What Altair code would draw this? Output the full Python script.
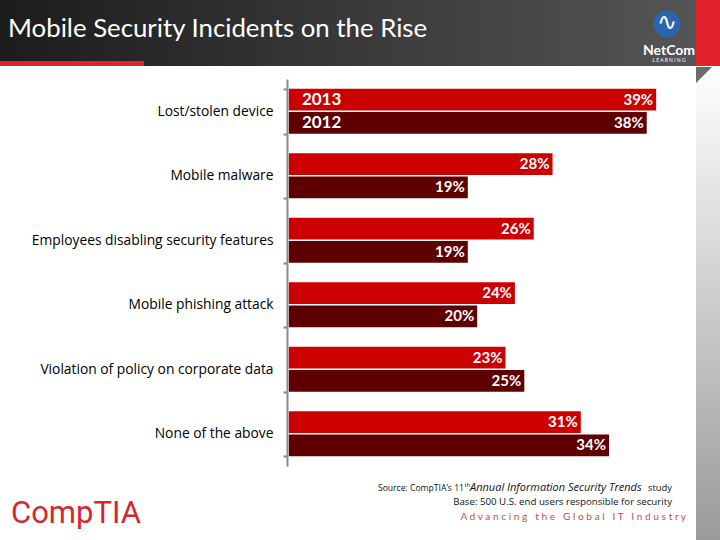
import altair as alt
import pandas as pd

categories = [
    "Lost/stolen device",
    "Mobile malware",
    "Employees disabling security features",
    "Mobile phishing attack",
    "Violation of policy on corporate data",
    "None of the above",
]
years = ["2013", "2012"]
values_2013 = [39, 28, 26, 24, 23, 31]
values_2012 = [38, 19, 19, 20, 25, 34]
year_colors = ["#cc0000", "#5e0000"]

title_text = "Mobile Security Incidents on the Rise"
source_a = "Source: CompTIA\u2019s 11"
source_sup = "th"
source_italic = "Annual Information Security Trends"
source_b = "study"
base_text = "Base: 500 U.S. end users responsible for security"
tagline_words = ["Advancing", "the", "Global", "IT", "Industry"]
NB = "\u00a0"
tagline = (NB * 3).join(NB.join(w) for w in tagline_words)

rows = []
for c, a, b in zip(categories, values_2013, values_2012):
    rows.append({"category": c, "year": "2013", "value": a, "label": f"{a}%"})
    rows.append({"category": c, "year": "2012", "value": b, "label": f"{b}%"})
df = pd.DataFrame(rows)

W, H = 420, 387
PL, PT = 287, 79
FONT = "Lato"
SFONT = "Open Sans"

y_enc = alt.Y(
    "category:N",
    sort=categories,
    scale=alt.Scale(paddingInner=0.3, paddingOuter=0.15),
    axis=alt.Axis(
        title=None,
        labelFont=SFONT,
        labelFontSize=13.8,
        labelColor="#000000",
        labelLimit=320,
        labelPadding=10,
        domainColor="#8c8c8c",
        domainWidth=2,
        tickColor="#8c8c8c",
        tickWidth=2,
        tickSize=4,
        tickBand="extent",
        grid=False,
    ),
)
yoff = alt.YOffset("year:N", sort=years, scale=alt.Scale(paddingInner=0.06))
x_enc = alt.X("value:Q", scale=alt.Scale(domain=[-0.2, 44.4], nice=False), axis=None)

base = alt.Chart(df)

bars = base.mark_bar().encode(
    y=y_enc,
    yOffset=yoff,
    x=x_enc,
    color=alt.Color("year:N", scale=alt.Scale(domain=years, range=year_colors), legend=None),
)

vals = base.mark_text(
    align="right", baseline="middle", dx=-3, font=FONT, fontSize=15, fontWeight="bold", color="white"
).encode(y=alt.Y("category:N", sort=categories), yOffset=yoff, x=x_enc, text="label:N")

year_lbl = base.transform_filter(alt.datum.category == categories[0]).mark_text(
    align="left", baseline="middle", dx=13, font=FONT, fontSize=17, fontWeight="bold", color="white"
).encode(y=alt.Y("category:N", sort=categories), yOffset=yoff, x=alt.datum(0), text="year:N")

one = alt.Chart(pd.DataFrame({"a": [0]}))

def V(px):
    return alt.value(px)

header = one.mark_rect(
    fill=alt.LinearGradient(
        gradient="linear",
        stops=[alt.GradientStop(color="#1c1c1c", offset=0), alt.GradientStop(color="#575757", offset=1)],
        x1=0, x2=1, y1=0, y2=0,
    )
).encode(x=V(-PL), x2=V(720 - PL), y=V(-PT), y2=V(66 - PT))

underline = one.mark_rect(color="#d8262e").encode(x=V(-PL), x2=V(144 - PL), y=V(61 - PT), y2=V(66 - PT))
red_strip = one.mark_rect(color="#e0222b").encode(x=V(696 - PL), x2=V(720 - PL), y=V(-PT), y2=V(66 - PT))
gray_strip = one.mark_rect(
    fill=alt.LinearGradient(
        gradient="linear",
        stops=[alt.GradientStop(color="#ffffff", offset=0), alt.GradientStop(color="#9a9a9a", offset=1)],
        x1=0, x2=0, y1=0, y2=1,
    )
).encode(x=V(696 - PL), x2=V(720 - PL), y=V(66 - PT), y2=V(540 - PT))
tri = one.mark_point(shape="M -1 -1 L 1 -1 L -1 1 Z", filled=True, color="#6b6b6b", opacity=1, size=256).encode(
    x=V(704 - PL), y=V(75 - PT)
)

title = one.mark_text(align="left", baseline="alphabetic", font=FONT, fontSize=25.8, color="white").encode(
    x=V(8 - PL), y=V(37 - PT), text=alt.value(title_text)
)

logo_circle = one.mark_point(filled=True, shape="circle", size=720, opacity=1, color="#2b66ad").encode(
    x=V(667 - PL), y=V(24 - PT)
)
logo_wave = one.mark_text(font="DejaVu Sans", fontSize=24, color="white", align="center", baseline="middle").encode(
    x=V(667 - PL), y=V(23 - PT), text=alt.value("\u223f")
)
logo_text = one.mark_text(font=FONT, fontSize=14, fontWeight="bold", color="white", align="center", baseline="alphabetic").encode(
    x=V(669 - PL), y=V(55 - PT), text=alt.value("NetCom")
)
logo_sub = one.mark_text(font=FONT, fontSize=5, color="white", align="center", baseline="alphabetic").encode(
    x=V(669 - PL), y=V(62 - PT), text=alt.value("L E A R N I N G")
)

comptia = one.mark_text(font="Roboto", fontSize=31, color="#d7262f", align="left", baseline="alphabetic").encode(
    x=V(11 - PL), y=V(523 - PT), text=alt.value("CompTIA")
)

src1 = one.mark_text(font=SFONT, fontSize=8.6, color="#111111", align="right", baseline="middle").encode(
    x=V(464 - PL), y=V(488 - PT), text=alt.value(source_a)
)
src_sup = one.mark_text(font=SFONT, fontSize=6, color="#111111", align="left", baseline="middle").encode(
    x=V(464.5 - PL), y=V(485 - PT), text=alt.value(source_sup)
)
src_it = one.mark_text(font=SFONT, fontSize=11, fontStyle="italic", color="#111111", align="left", baseline="middle").encode(
    x=V(470 - PL), y=V(488 - PT), text=alt.value(source_italic)
)
src2 = one.mark_text(font=SFONT, fontSize=9.4, color="#111111", align="right", baseline="middle").encode(
    x=V(672 - PL), y=V(488 - PT), text=alt.value(source_b)
)
base_t = one.mark_text(font=SFONT, fontSize=9.7, color="#111111", align="right", baseline="middle").encode(
    x=V(672 - PL), y=V(502 - PT), text=alt.value(base_text)
)
tag = one.mark_text(font=FONT, fontSize=10.2, color="#c0504d", align="right", baseline="middle").encode(
    x=V(686 - PL), y=V(517 - PT), text=alt.value(tagline)
)

chart = alt.layer(
    header, underline, red_strip, gray_strip, tri, title,
    logo_circle, logo_wave, logo_text, logo_sub,
    bars, vals, year_lbl,
    comptia, src1, src_sup, src_it, src2, base_t, tag,
).properties(
    width=W,
    height=H,
    autosize=alt.AutoSizeParams(type="none"),
    padding={"left": PL, "top": PT, "right": 720 - PL - W, "bottom": 540 - PT - H},
    background="white",
).configure_view(stroke=None)

chart.save("out.html", embed_options={"renderer": "svg", "actions": False})
